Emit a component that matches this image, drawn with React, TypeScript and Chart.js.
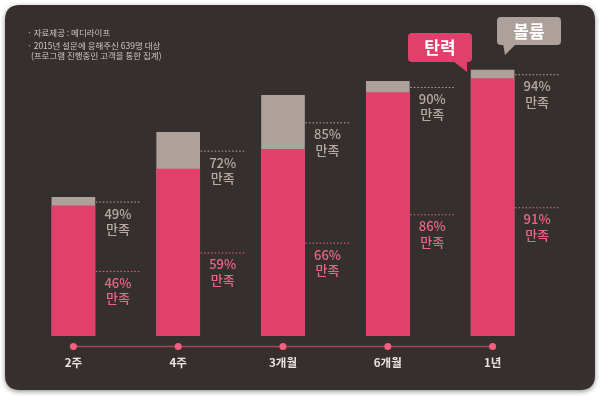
import React, { useEffect, useRef } from "react";
import { Chart, registerables } from "chart.js";

Chart.register(...registerables);

const categories = ["2주", "4주", "3개월", "6개월", "1년"];
const elasticity = [46, 59, 66, 86, 91]; // 탄력
const volume = [49, 72, 85, 90, 94]; // 볼륨
const satisfiedWord = "만족";
const notes = ["· 자료제공 : 메디라이프", "· 2015년 설문에 응해주신 639명 대상", " (프로그램 진행중인 고객을 통한 집계)"];
const legendElasticity = "탄력";
const legendVolume = "볼륨";

const PINK = "#E1406D";
const GRAY = "#AEA09A";
const BG = "#35302E";
const PINK_TEXT = "#EE6488";
const GRAY_TEXT = "#B8AAA3";
const FONT = "'Noto Sans CJK KR', 'Noto Sans', sans-serif";

function roundRect(ctx: CanvasRenderingContext2D, x: number, y: number, w: number, h: number, r: number) {
  ctx.beginPath();
  ctx.moveTo(x + r, y);
  ctx.lineTo(x + w - r, y);
  ctx.quadraticCurveTo(x + w, y, x + w, y + r);
  ctx.lineTo(x + w, y + h - r);
  ctx.quadraticCurveTo(x + w, y + h, x + w - r, y + h);
  ctx.lineTo(x + r, y + h);
  ctx.quadraticCurveTo(x, y + h, x, y + h - r);
  ctx.lineTo(x, y + r);
  ctx.quadraticCurveTo(x, y, x + r, y);
  ctx.closePath();
}

const decorPlugin = {
  id: "decor",
  beforeDraw(chart: any) {
    const ctx = chart.ctx as CanvasRenderingContext2D;
    ctx.save();
    ctx.fillStyle = "#ffffff";
    ctx.fillRect(0, 0, chart.width, chart.height);
    ctx.shadowColor = "rgba(0,0,0,0.45)";
    ctx.shadowBlur = 5;
    ctx.shadowOffsetX = 0;
    ctx.shadowOffsetY = 1.5;
    roundRect(ctx, 5, 5, 590, 385, 15);
    ctx.fillStyle = BG;
    ctx.fill();
    ctx.restore();
  },
  afterDatasetsDraw(chart: any) {
    const ctx = chart.ctx as CanvasRenderingContext2D;
    const xs = chart.scales.x;
    const ys = chart.scales.y;
    const half = 21.5;
    ctx.save();

    // value labels with dotted leaders
    const drawLabel = (x: number, y: number, value: number, color: string) => {
      ctx.strokeStyle = color;
      ctx.lineWidth = 1;
      ctx.setLineDash([1.5, 2]);
      ctx.beginPath();
      ctx.moveTo(x + 1, y + 0.5);
      ctx.lineTo(x + 45, y + 0.5);
      ctx.stroke();
      ctx.setLineDash([]);
      ctx.fillStyle = color;
      ctx.textAlign = "center";
      ctx.textBaseline = "middle";
      ctx.font = `500 13px ${FONT}`;
      ctx.fillText(`${value}%`, x + 23, y + 12);
      ctx.fillText(satisfiedWord, x + 23, y + 27.5);
    };

    categories.forEach((_, i) => {
      const cx = xs.getPixelForValue(i);
      const right = cx + half;
      const yGray = ys.getPixelForValue((volume[i] + elasticity[i]) / 2);
      const yPink = ys.getPixelForValue(elasticity[i] / 2);
      drawLabel(right, yGray, volume[i], GRAY_TEXT);
      drawLabel(right, yPink, elasticity[i], PINK_TEXT);
    });

    // axis line with dots
    const axisY = 346.5;
    const x0 = xs.getPixelForValue(0);
    const x1 = xs.getPixelForValue(categories.length - 1);
    ctx.strokeStyle = "#A8435E";
    ctx.lineWidth = 1.5;
    ctx.beginPath();
    ctx.moveTo(x0, axisY);
    ctx.lineTo(x1, axisY);
    ctx.stroke();
    categories.forEach((c, i) => {
      const cx = xs.getPixelForValue(i);
      ctx.fillStyle = "#F2607C";
      ctx.beginPath();
      ctx.arc(cx, axisY, 3.5, 0, Math.PI * 2);
      ctx.fill();
      ctx.fillStyle = "#EAE4E0";
      ctx.font = `600 11.5px ${FONT}`;
      ctx.textAlign = "center";
      ctx.textBaseline = "middle";
      ctx.fillText(c, cx, 362.5);
    });

    // notes
    ctx.fillStyle = "#CEC5C0";
    ctx.font = `400 8.5px ${FONT}`;
    ctx.textAlign = "left";
    ctx.textBaseline = "middle";
    ctx.fillText(notes[0], 27, 33);
    ctx.fillText(notes[1], 27, 46);
    ctx.fillText(notes[2], 29, 56);

    // callouts
    // 탄력
    ctx.fillStyle = PINK;
    roundRect(ctx, 408, 33, 64, 29, 4);
    ctx.fill();
    ctx.beginPath();
    ctx.moveTo(453, 61);
    ctx.lineTo(467, 61);
    ctx.lineTo(467, 72);
    ctx.closePath();
    ctx.fill();
    ctx.fillStyle = "#ffffff";
    ctx.font = `700 17px ${FONT}`;
    ctx.textAlign = "center";
    ctx.textBaseline = "middle";
    ctx.fillText(legendElasticity, 440, 48);

    // 볼륨
    ctx.fillStyle = GRAY;
    roundRect(ctx, 497, 17, 64, 28, 4);
    ctx.fill();
    ctx.beginPath();
    ctx.moveTo(503, 44);
    ctx.lineTo(516, 44);
    ctx.lineTo(505, 55);
    ctx.closePath();
    ctx.fill();
    ctx.fillStyle = "#ffffff";
    ctx.font = `600 17px ${FONT}`;
    ctx.fillText(legendVolume, 529, 32);

    ctx.restore();
  },
};

export default function App() {
  const ref = useRef<HTMLCanvasElement | null>(null);
  useEffect(() => {
    if (!ref.current) return;
    const chart = new Chart(ref.current, {
      type: "bar",
      data: {
        labels: categories,
        datasets: [
          {
            label: legendElasticity,
            data: elasticity,
            backgroundColor: PINK,
            barThickness: 43,
            grouped: false,
            order: 0,
          } as any,
          {
            label: legendVolume,
            data: volume,
            backgroundColor: GRAY,
            barThickness: 43,
            grouped: false,
            order: 1,
          } as any,
        ],
      },
      options: {
        responsive: false,
        animation: false,
        devicePixelRatio: 1,
        layout: { padding: { left: 21, right: 55, top: 53, bottom: 60 } },
        plugins: { legend: { display: false }, tooltip: { enabled: false } },
        scales: {
          x: { display: false, offset: true },
          y: { display: false, min: 0, max: 100 },
        },
      },
      plugins: [decorPlugin],
    });
    return () => chart.destroy();
  }, []);
  return (
    <div style={{ position: "absolute", left: 0, top: 0, width: 600, height: 396 }}>
      <canvas ref={ref} width={600} height={396} style={{ display: "block" }} />
    </div>
  );
}
